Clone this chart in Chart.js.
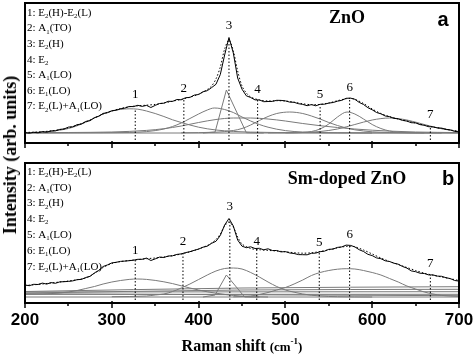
<!DOCTYPE html>
<html><head><meta charset="utf-8">
<script src="https://cdn.jsdelivr.net/npm/chart.js@4"></script>
<style>
body{margin:0;background:#fff;width:474px;height:355px;position:relative;overflow:hidden}
#ca{position:absolute;left:0;top:0}
#cb{position:absolute;left:0;top:155px}
#yt{position:absolute;left:10px;top:155px;transform:translate(-50%,-50%) rotate(-90deg);font:bold 18px "Liberation Serif","Times New Roman",serif;white-space:nowrap;color:#000;line-height:1}
</style></head><body>
<canvas id="ca" width="474" height="155"></canvas>
<canvas id="cb" width="474" height="200"></canvas>
<div id="yt">Intensity (arb. units)</div>
<script>
// ---------- data ----------
const ramanShift = [200,205,210,215,220,225,230,235,240,245,250,255,260,265,270,275,280,285,290,295,300,305,310,315,320,325,330,335,340,345,350,355,360,365,370,375,380,385,390,395,400,405,410,415,420,425,430,435,440,445,450,455,460,465,470,475,480,485,490,495,500,505,510,515,520,525,530,535,540,545,550,555,560,565,570,575,580,585,590,595,600,605,610,615,620,625,630,635,640,645,650,655,660,665,670,675,680,685,690,695,700];
const spectrumZnO = [0.3,-0.2,0.7,0.2,1.3,0.8,2.1,2.2,3.6,4.0,5.9,6.2,8.3,9.0,11.6,12.3,15.4,16.7,19.6,20.3,22.2,22.8,24.2,24.9,26.5,26.4,27.7,26.6,27.6,25.5,27.6,29.5,29.8,31.7,31.6,33.5,33.2,35.3,35.6,37.9,38.5,41.2,42.3,45.4,48.7,58.5,78,95.5,80,55,43.8,37.2,35.5,33.1,33.1,31.3,31.5,31.6,32.7,32.6,32.1,30.9,30.7,29.3,28.6,27.3,28.4,27.2,28.7,28.8,29.9,30.5,31.8,32.7,34.7,34.9,33.7,30.6,28.5,25.3,23.2,20.5,19.2,17.0,16.4,14.7,14.1,12.6,11.9,10.3,10.1,8.4,7.7,6.3,6.1,5.1,4.9,3.7,3.1,1.6,1.2];
const spectrumSm = [12.0,11.3,12.7,12.5,13.9,12.9,14.4,13.7,15.1,15.3,15.6,16.1,17.3,17.6,19.5,20.7,24.1,26.6,30.5,32.1,34.1,34.7,35.6,35.9,36.3,36.8,37.7,37.7,38.9,36.5,38.1,39.9,39.5,41.0,41.2,42.6,43.1,44.4,45.3,46.7,47.9,49.8,50.8,53.7,55.7,61.5,72,78.5,71,57,50.8,49.3,50.2,48.5,48.7,47.2,48.2,46.5,46.5,45.1,45.4,44.0,43.5,42.4,42.3,42.2,43.7,43.9,45.3,45.8,47.7,47.9,49.6,50.1,51.9,51.6,50.1,47.3,45.5,42.7,41.4,39.1,38.3,36.2,35.5,33.8,32.8,30.5,28.9,26.1,25.3,23.8,23.5,22.1,22.1,20.9,20.7,19.3,18.4,16.5,15.9];

const fitZnO = [[200,0.5],[210,0.8],[220,1.3],[230,2.1],[240,3.3],[250,5.2],[260,7.8],[270,11],[280,15],[290,19],[300,22],[310,24.5],[320,26.2],[330,27.2],[340,27.8],[350,28.6],[360,30],[370,31.8],[380,33.6],[390,35.8],[400,38.8],[410,43.5],[415,47],[420,54],[425,66],[430,84],[435,93],[440,82],[445,62],[450,47],[455,40],[460,36],[470,33],[480,32],[490,32.3],[500,32],[510,30.8],[520,29.2],[530,28.3],[540,28.6],[550,30],[560,32.3],[570,34.3],[575,34.6],[580,33.8],[590,29.5],[600,24],[610,19.5],[620,16.3],[630,14],[640,12],[650,10],[660,7.8],[670,6],[680,4.5],[690,3],[700,1.6]];
const fitSm = [[200,11.5],[210,12.2],[220,13],[230,14],[240,15],[250,16],[260,17.3],[270,19],[280,23.5],[290,29.5],[300,33.5],[310,35.4],[320,36.5],[330,37.4],[340,38.3],[350,39],[360,40],[370,41.3],[380,43],[390,45.2],[400,48],[410,51.5],[415,54],[420,57.5],[425,63],[430,71],[435,75],[440,70],[445,60],[450,53],[460,48.5],[470,47.3],[480,46.6],[490,46],[500,45.2],[510,44.3],[520,43.8],[530,44.2],[540,45.5],[550,47.2],[560,49.2],[570,50.6],[575,50.8],[580,50.2],[590,47],[600,43],[610,39],[620,35.5],[630,32.5],[640,29.5],[650,26.5],[660,23.8],[670,21.8],[680,20],[690,18.3],[700,16.5]];

// fitted components, ZnO
const znoBase = [[200,0],[700,0]];
const znoPeak1 = [[200,0.3],[210,0.6],[220,1.0],[230,1.6],[240,2.8],[250,4.5],[260,7.2],[270,10.8],[280,15],[290,19],[300,22],[310,23.6],[320,24.2],[330,23.8],[340,22],[350,19.5],[360,16.5],[370,13.2],[380,10.5],[390,8],[400,5.8],[410,4.2],[420,3],[430,2.2],[440,1.6],[450,1.2],[460,0.9],[480,0.6],[500,0.4],[550,0.2],[600,0.1],[700,0]];
const znoPeak2 = [[200,0.1],[260,0.2],[320,0.5],[330,0.8],[340,1.4],[350,2.4],[360,4],[370,6.5],[380,10],[390,14.5],[400,19],[410,23],[418,25],[425,24.5],[430,23.5],[440,20.5],[450,16],[460,12],[470,8.5],[480,5.8],[490,3.8],[500,2.4],[510,1.5],[520,1],[540,0.4],[560,0.2],[600,0]];
const znoPeak3 = [[405,0],[419,1],[432,43],[455,0.3],[475,0]];
const znoPeak4 = [[200,0.3],[250,0.5],[300,1],[320,1.6],[340,2.6],[360,4.3],[380,7],[400,10.5],[420,13.5],[440,15],[460,15],[480,14],[500,12],[520,9.5],[540,7.3],[560,5.5],[580,4],[600,2.8],[620,1.9],[650,1],[700,0.4]];
const znoPeak5 = [[380,0.2],[420,0.8],[440,2.5],[450,4.5],[460,8],[470,12.5],[480,16.5],[490,19.5],[505,21],[520,19.5],[530,17],[540,14],[550,10.5],[560,7.5],[570,5],[580,3.2],[600,1.2],[620,0.5],[660,0.1]];
const znoPeak6 = [[500,0.1],[520,0.5],[530,1.5],[540,4],[550,9],[560,16],[571,21],[580,19],[590,14],[600,8.5],[610,4.5],[620,2],[630,0.8],[650,0.2],[680,0]];
const znoPeak7 = [[480,0.1],[520,0.5],[540,1.5],[560,4],[580,8.5],[600,13],[620,15],[640,13],[660,8.5],[680,4.2],[700,1.5]];

// fitted components, Sm-doped ZnO
const smBase0 = [[200,0],[700,0]];
const smBase1 = [[200,2.7],[700,2.7]];
const smBase2 = [[200,5],[700,5.3]];
const smBase3 = [[200,4],[450,7],[700,7.7]];
const smBase4 = [[200,5.5],[450,9],[700,10.3]];
const smBase5 = [[200,3.2],[700,1.3]];
const smPeak1 = [[200,2.8],[220,3],[240,4],[250,5],[260,6.5],[270,8.5],[280,10.5],[290,13],[300,15],[310,16.5],[320,17.6],[330,18],[340,17.6],[350,16.6],[360,15.2],[370,13.4],[380,11.2],[390,9],[400,7],[410,5.2],[420,3.8],[430,2.6],[440,1.6],[450,0.8],[460,0.3],[480,0]];
const smPeak2 = [[300,0.3],[340,1],[350,2],[360,3],[370,5.5],[380,9],[390,13],[400,17.5],[410,22],[420,26],[430,28.5],[440,29],[450,28],[460,24.5],[470,20],[480,15],[490,10.5],[500,7],[510,4.8],[520,3],[530,1.8],[540,1],[560,0.3],[600,0]];
const smPeak3 = [[405,0],[419,2],[432,22],[453,0],[470,0]];
const smPeak6 = [[440,0.2],[460,1],[470,2.5],[480,4.5],[490,7],[500,9.5],[510,13],[520,17],[530,21.5],[540,24.5],[550,26.5],[560,27.8],[570,28.3],[580,28],[590,26.5],[600,24.5],[610,22],[620,18.5],[630,15],[640,11],[650,8],[660,5],[670,3],[680,1.6],[690,1],[700,0.6]];

// mode markers
const peakNames = ['1','2','3','4','5','6','7'];
const peakPosZnO = [327,383,435,468,540,574,667];
const peakTopZnO = [23,34,93,34,28,34,6];
const peakLabelZnO = [38,44,107,43,38,45,18];
const peakPosSm = [327,382,436,467,539,574,667];
const peakTopSm = [39,44,78,49,45,51,22];
const peakLabelSm = [46,55,90,55,54,62,33];
const modeLegend = ['1: E_2(H)-E_2(L)','2: A_1(TO)','3: E_2(H)','4: E_2','5: A_1(LO)','6: E_1(LO)','7: E_2(L)+A_1(LO)'];
const xTickValues = [200,250,300,350,400,450,500,550,600,650,700];
const xTickLabels = [200,300,400,500,600,700];

// ---------- helpers ----------
const SERIF = '"Liberation Serif","Times New Roman",serif';
const SANS = '"Liberation Sans",Arial,sans-serif';
const pairs = arr => arr.map(p => ({x:p[0], y:p[1]}));
const zip = (xs, ys) => xs.map((x,i) => ({x, y:ys[i]}));

function drawRich(ctx, str, x, y, size) {
  const parts = str.split(/(_\d)/);
  for (const p of parts) {
    if (!p) continue;
    if (p[0] === '_') {
      ctx.font = (size*0.62) + 'px ' + SERIF;
      ctx.fillText(p[1], x, y + size*0.3);
      x += ctx.measureText(p[1]).width;
    } else {
      ctx.font = size + 'px ' + SERIF;
      ctx.fillText(p, x, y);
      x += ctx.measureText(p).width;
    }
  }
}

function drawAxisTitle(ctx, cx, cy) {
  const segs = [
    {t:'Raman shift ', f:'bold 16px ' + SERIF, dy:0},
    {t:'(cm', f:'bold 13px ' + SERIF, dy:0.5},
    {t:'-1', f:'bold 9px ' + SERIF, dy:-5},
    {t:')', f:'bold 13px ' + SERIF, dy:0.5}
  ];
  let w = 0;
  segs.forEach(s => { ctx.font = s.f; s.w = ctx.measureText(s.t).width; w += s.w; });
  let x = cx - w / 2;
  ctx.textAlign = 'left';
  segs.forEach(s => { ctx.font = s.f; ctx.fillText(s.t, x, cy + s.dy); x += s.w; });
}

const decor = {
  id: 'decor',
  afterDatasetsDraw(chart, args, o) {
    const {ctx, chartArea: a, scales: {x, y}} = chart;
    ctx.save();
    ctx.strokeStyle = '#000';
    ctx.lineWidth = 2;
    ctx.strokeRect(a.left, a.top, a.right - a.left, a.bottom - a.top);
    ctx.lineWidth = 1.5;
    for (const v of xTickValues) {
      const px = Math.round(x.getPixelForValue(v));
      const major = v % 100 === 0;
      ctx.beginPath();
      ctx.moveTo(px, a.bottom - (major ? 2 : 0));
      ctx.lineTo(px, a.bottom + (major ? 5 : 3));
      ctx.stroke();
    }
    ctx.fillStyle = '#000';
    ctx.textBaseline = 'middle';
    ctx.textAlign = 'left';
    modeLegend.forEach((s, i) => drawRich(ctx, s, a.left + 2, a.top + o.legendTop + i * o.legendStep, 11));
    ctx.textAlign = 'center';
    ctx.font = '13px ' + SERIF;
    o.pos.forEach((v, i) => ctx.fillText(peakNames[i], x.getPixelForValue(v), y.getPixelForValue(o.lab[i])));
    ctx.font = 'bold 18px ' + SERIF;
    ctx.fillText(o.title, 347, a.top + o.titleDy);
    ctx.font = 'bold 20px ' + SANS;
    ctx.fillText(o.tag, o.tagX, a.top + o.tagDy);
    if (o.axisLabels) {
      ctx.font = 'bold 17px ' + SANS;
      ctx.textAlign = 'center';
      xTickLabels.forEach(v => ctx.fillText(String(v), x.getPixelForValue(v), a.bottom + 17));
      drawAxisTitle(ctx, (a.left + a.right) / 2, a.bottom + 44);
    }
    ctx.restore();
  }
};

function buildDatasets(spec, fit, comps, triangles, pos, top, bottom) {
  const ds = [];
  ds.push({data: zip(ramanShift, spec), borderColor:'#000', borderWidth:1, tension:0});
  ds.push({data: pairs(fit), borderColor:'#000', borderWidth:1, borderDash:[1.5,2], tension:0.3});
  pos.forEach((p, i) => ds.push({data: [{x:p, y:bottom}, {x:p, y:top[i]}], borderColor:'#000', borderWidth:1, borderDash:[1.5,2], tension:0}));
  comps.forEach(c => ds.push({data: pairs(c), borderColor:'#7a7a7a', borderWidth:1, cubicInterpolationMode:'monotone'}));
  triangles.forEach(c => ds.push({data: pairs(c), borderColor:'#7a7a7a', borderWidth:1, tension:0}));
  return ds;
}

function baseOptions(yMin, yMax, padding, decorOpts) {
  return {
    animation:false, responsive:false, devicePixelRatio:1,
    layout:{padding},
    elements:{point:{radius:0}},
    plugins:{legend:{display:false}, tooltip:{enabled:false}, decor:decorOpts},
    scales:{
      x:{type:'linear', min:200, max:700, display:false},
      y:{type:'linear', min:yMin, max:yMax, display:false}
    }
  };
}

new Chart(document.getElementById('ca'), {
  type:'line',
  data:{datasets: buildDatasets(spectrumZnO, fitZnO,
        [znoBase, znoPeak1, znoPeak2, znoPeak4, znoPeak5, znoPeak6, znoPeak7], [znoPeak3],
        peakPosZnO, peakTopZnO, -7)},
  options: baseOptions(-10, 130, {left:25, right:15, top:3, bottom:12},
        {legendTop:10, legendStep:15.6, pos:peakPosZnO, lab:peakLabelZnO, title:'ZnO', titleDy:15.5, tag:'a', tagX:443, tagDy:17, axisLabels:false}),
  plugins:[decor]
});

new Chart(document.getElementById('cb'), {
  type:'line',
  data:{datasets: buildDatasets(spectrumSm, fitSm,
        [smBase0, smBase1, smBase2, smBase3, smBase4, smBase5, smPeak1, smPeak2, smPeak6], [smPeak3],
        peakPosSm, peakTopSm, -3)},
  options: baseOptions(-6, 134, {left:25, right:15, top:8, bottom:52},
        {legendTop:9, legendStep:15.8, pos:peakPosSm, lab:peakLabelSm, title:'Sm-doped ZnO', titleDy:16, tag:'b', tagX:448, tagDy:16, axisLabels:true}),
  plugins:[decor]
});
</script>
</body></html>
